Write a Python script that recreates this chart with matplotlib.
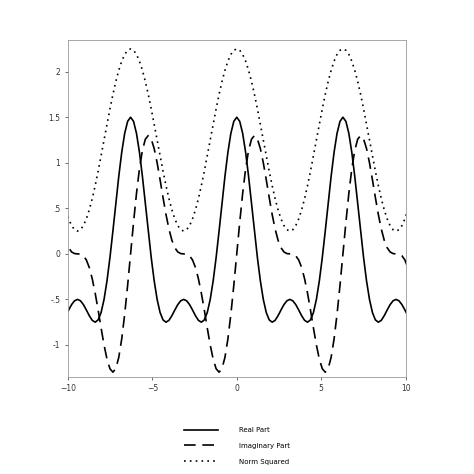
import numpy as np
import matplotlib.pyplot as plt

deg = np.arange(0, 190, 10)
real_half = [1.5, 1.455, 1.323, 1.116, 0.853, 0.556, 0.25, -0.041, -0.296, -0.5,
             -0.644, -0.725, -0.75, -0.730, -0.679, -0.616, -0.557, -0.515, -0.5]
imag_half = [0, 0.345, 0.663, 0.933, 1.135, 1.259, 1.299, 1.261, 1.156, 1.0,
             0.814, 0.618, 0.433, 0.274, 0.150, 0.067, 0.021, 0.003, 0]
norm_half = [2.25, 2.235, 2.190, 2.116, 2.016, 1.893, 1.75, 1.592, 1.424, 1.25,
             1.076, 0.908, 0.75, 0.607, 0.484, 0.384, 0.310, 0.265, 0.25]

labels = ["Real Part", "Imaginary Part", "Norm Squared"]

# build full period 0..350 deg
deg_p = np.concatenate([deg, 360 - deg[-2:0:-1]])
real_p = np.array(real_half + real_half[-2:0:-1])
imag_p = np.array(imag_half + [-v for v in imag_half[-2:0:-1]])
norm_p = np.array(norm_half + norm_half[-2:0:-1])

periods = range(-2, 2)
x = np.concatenate([np.deg2rad(deg_p + 360 * k) for k in periods] + [[4 * np.pi]])
re = np.concatenate([real_p for _ in periods] + [[real_p[0]]])
im = np.concatenate([imag_p for _ in periods] + [[imag_p[0]]])
nm = np.concatenate([norm_p for _ in periods] + [[norm_p[0]]])

fig = plt.figure(figsize=(4.74, 4.74), dpi=100)
ax = fig.add_axes([0.143, 0.205, 0.713, 0.711])
l1, = ax.plot(x, re, color="black", lw=1.2, ls="-")
l2, = ax.plot(x, im, color="black", lw=1.2, ls=(0, (7, 4)))
l3, = ax.plot(x, nm, color="black", lw=1.2, ls=(0, (1, 2.5)))

ax.set_xlim(-10, 10)
ax.set_ylim(-1.35, 2.35)
ax.set_xticks([-10, -5, 0, 5, 10])
ax.set_yticks([-1, -0.5, 0, 0.5, 1, 1.5, 2])
ax.set_yticklabels(["-1", "-.5", "0", ".5", "1", "1.5", "2"])
ax.tick_params(labelsize=5.5, length=2, width=0.5, colors="#333333")
for s in ax.spines.values():
    s.set_color("#999999")
    s.set_linewidth(0.6)

fig.legend([l1, l2, l3], labels, loc="upper center", bbox_to_anchor=(0.5, 0.112),
           frameon=False, fontsize=5, handlelength=5, handletextpad=3, labelspacing=1.4)

fig.savefig("out.png", dpi=100)
